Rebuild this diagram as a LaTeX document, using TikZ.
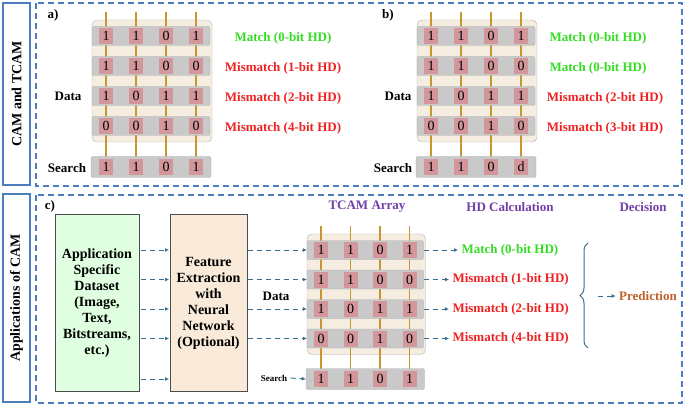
\documentclass[tikz,border=0pt]{standalone}
\usepackage{fontspec}
\setmainfont{Liberation Serif}
\usetikzlibrary{decorations.pathreplacing,arrows.meta}
\definecolor{dblue}{HTML}{4A7EBF}
\definecolor{bgc}{HTML}{F6EDE1}
\definecolor{rowg}{HTML}{C9C9C9}
\definecolor{rowd}{HTML}{B0B0B0}
\definecolor{pinkc}{HTML}{D3979B}
\definecolor{bitc}{HTML}{C8962F}
\definecolor{mgreen}{HTML}{33DD22}
\definecolor{mred}{HTML}{EE2222}
\definecolor{arrc}{HTML}{3A6E8F}
\definecolor{purp}{HTML}{7040A8}
\definecolor{brn}{HTML}{C0602A}
\tikzset{
 txt/.style={font=\fontsize{13}{15}\selectfont\bfseries},
 rowbox/.style={fill=rowg,draw=rowd,rounded corners=2,minimum height=19,inner sep=0},
 cell/.style={fill=pinkc,minimum width=14,minimum height=16,inner sep=0,font=\fontsize{14}{15}\selectfont},
 bitline/.style={bitc,line width=1.1},
 dbox/.style={dblue,dashed,line width=1.3,dash pattern=on 6pt off 4pt},
 lbox/.style={draw=dblue,line width=1.5,fill=white},
 darr/.style={arrc,line width=1,dash pattern=on 5pt off 4pt,-{Latex[length=4,width=4]}},
 mt/.style={txt,mgreen},
 mm/.style={txt,mred},
 hd/.style={txt,purp},
}
\newcommand\camgrid[8]{%
 \fill[bgc,draw=rowd,rounded corners=5] (#2-14,#4-16) rectangle (#2+3*#3+16,#4+3*#5+16);
 \foreach \c in {0,...,3} \draw[bitline] (#2+\c*#3,#4-24) -- (#2+\c*#3,#6-10);
 \foreach \vals [count=\r from 0] in {#7} {
   \node[rowbox,minimum width=3*#3+28] (#1r\r) at (#2+1.5*#3,#4+\r*#5) {};
   \foreach \v [count=\c from 0] in \vals \node[cell] (#1c\r\c) at (#2+\c*#3,#4+\r*#5) {\v};
 }
 \node[rowbox,minimum width=3*#3+30,minimum height=21] (#1s) at (#2+1.5*#3,#6) {};
 \foreach \v [count=\c from 0] in {#8} \node[cell] (#1sc\c) at (#2+\c*#3,#6) {\v};
}
\begin{document}
\begin{tikzpicture}[x=1pt,y=-1pt]
\useasboundingbox (0,0) rectangle (685,406);
\node[lbox,minimum width=27,minimum height=182,inner sep=0] (la) at (16.5,94) {};
\node[rotate=90,font=\fontsize{14}{16}\selectfont\bfseries] at (la) {CAM and TCAM};
\node[lbox,minimum width=27,minimum height=208,inner sep=0] (lc) at (16.5,298) {};
\node[rotate=90,font=\fontsize{14}{16}\selectfont\bfseries] at (lc) {Applications of CAM};
\draw[dbox] (36,3) rectangle (682,186);
\draw[dbox] (36,195) rectangle (682,403);
\node[txt] (pa) at (53,15) {a)};
\camgrid{a}{106}{30}{36}{30}{167}{{1,1,0,1},{1,1,0,0},{1,0,1,1},{0,0,1,0}}{1,1,0,1}
\node[txt] (adata) at (68,96) {Data};
\node[txt] (asrch) at (67,168) {Search};
\node[mt] (a0) at (283,38) {Match (0-bit HD)};
\node[mm] (a1) at (283,68) {Mismatch (1-bit HD)};
\node[mm] (a2) at (283,98) {Mismatch (2-bit HD)};
\node[mm] (a3) at (283,128) {Mismatch (4-bit HD)};
\node[txt] (pb) at (388,15) {b)};
\camgrid{b}{431}{30}{36}{30}{167}{{1,1,0,1},{1,1,0,0},{1,0,1,1},{0,0,1,0}}{1,1,0,d}
\node[txt] (bdata) at (398,96) {Data};
\node[txt] (bsrch) at (393,168) {Search};
\node[mt] (b0) at (598,38) {Match (0-bit HD)};
\node[mt] (b1) at (598,68) {Match (0-bit HD)};
\node[mm] (b2) at (605,98) {Mismatch (2-bit HD)};
\node[mm] (b3) at (605,128) {Mismatch (3-bit HD)};
\node[txt] (pc) at (50,206) {c)};
\node[draw=black!70,fill=green!12,minimum width=84,minimum height=177,inner sep=0] (app) at (97,303) {};
\node[align=center,font=\fontsize{14}{16}\selectfont\bfseries] at (app) {Application\\Specific\\Dataset\\(Image,\\Text,\\Bitstreams,\\etc.)};
\node[draw=black!70,fill=bgc!85!orange!60,minimum width=77,minimum height=177,inner sep=0] (fe) at (208.5,303) {};
\node[align=center,font=\fontsize{14}{16}\selectfont\bfseries] at (fe) {Feature\\Extraction\\with\\Neural\\Network\\(Optional)};
\camgrid{c}{321}{29.5}{250}{29.5}{379}{{1,1,0,1},{1,1,0,0},{1,0,1,1},{0,0,1,0}}{1,1,0,1}
\foreach \r/\y in {0/250,1/279.5,2/309,3/338.5}{
 \coordinate (s\r) at (141,\y); \coordinate (t\r) at (169,\y); \coordinate (u\r) at (248,\y);
 \draw[darr] (s\r) -- (t\r);
 \draw[darr] (u\r) -- (cr\r.west);
}
\coordinate (s4) at (141,379); \coordinate (t4) at (169,379);
\draw[darr] (s4) -- (t4);
\node[txt] (cdata) at (276,296) {Data};
\node[font=\fontsize{9}{10}\selectfont\bfseries] (csrch) at (274,378) {Search};
\draw[darr] (csrch.east) -- (cs.west);
\node[hd] (h1) at (367,207) {TCAM Array};
\node[hd] (h2) at (510,207) {HD Calculation};
\node[hd] (h3) at (643,207) {Decision};
\node[mt,anchor=west] (c0) at (458,250) {Match (0-bit HD)};
\node[mm,anchor=west] (c1) at (449,279.5) {Mismatch (1-bit HD)};
\node[mm,anchor=west] (c2) at (449,309) {Mismatch (2-bit HD)};
\node[mm,anchor=west] (c3) at (449,338.5) {Mismatch (4-bit HD)};
\foreach \r in {0,...,3} \draw[darr] (cr\r.east) -- (c\r.west);
\draw[arrc,line width=1,decorate,decoration={brace,amplitude=8,mirror}] (588,243) -- (588,348);
\coordinate (br) at (598,296);
\node[txt,brn] (pred) at (648,296) {Prediction};
\draw[darr] (br) -- (pred.west);
\end{tikzpicture}
\end{document}
